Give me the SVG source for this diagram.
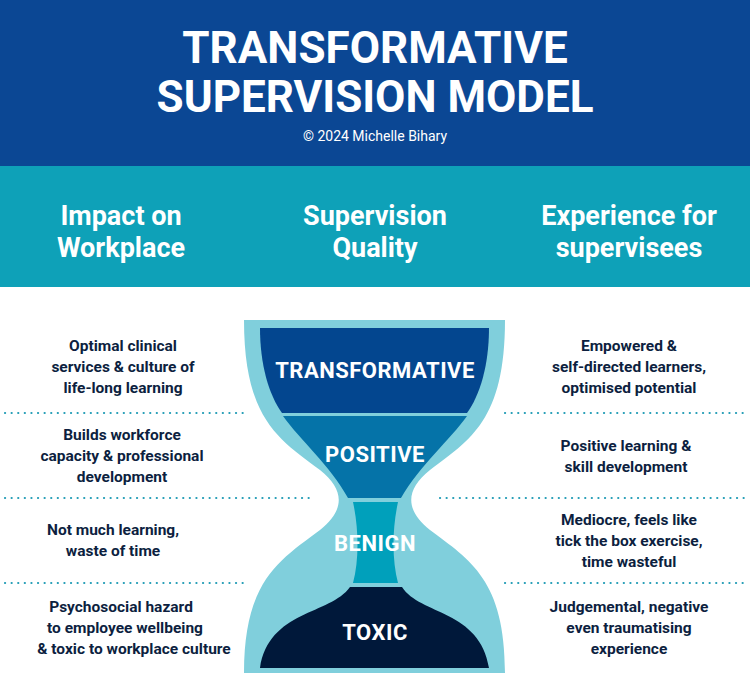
<svg xmlns="http://www.w3.org/2000/svg" width="750" height="691" viewBox="0 0 750 691">
<style>
.t{font-family:Roboto,"Liberation Sans",sans-serif;font-weight:bold}
.h{fill:#fff;font-size:27px;text-anchor:middle}
.s{fill:#0d1f3f;font-size:15.5px;text-anchor:middle}
.l{fill:#fff;font-size:22px;text-anchor:middle;letter-spacing:0.5px}
.d{stroke:#1f9bb5;stroke-width:2.2;stroke-dasharray:0.1 6.5;stroke-linecap:round;fill:none}
</style>
<rect x="0" y="0" width="750" height="166" fill="#0b4794"/>
<rect x="0" y="166" width="750" height="121" fill="#0ea1b8"/>
<g id="title">
<text class="t" x="375" y="63" fill="#fff" font-size="44" text-anchor="middle">TRANSFORMATIVE</text>
<text class="t" x="375" y="112" fill="#fff" font-size="44" text-anchor="middle">SUPERVISION MODEL</text>
<text x="375" y="141" fill="#fff" font-size="14" text-anchor="middle" font-family="Roboto,'Liberation Sans',sans-serif">© 2024 Michelle Bihary</text>
</g>
<g id="headers">
<text class="t h" x="121" y="225">Impact on</text><text class="t h" x="121" y="257">Workplace</text>
<text class="t h" x="375" y="225">Supervision</text><text class="t h" x="375" y="257">Quality</text>
<text class="t h" x="629" y="225">Experience for</text><text class="t h" x="629" y="257">supervisees</text>
</g>
<g id="connectors">
<path class="d" d="M5 413H245M505 413H745M5 498H310M440 498H745M5 583H245M505 583H745"/>
</g>
<g id="hourglass">
<path d="M244 320H505C505 420 470 440 430 470C405 490 405 510 430 530C470 560 505 580 505 673H244C244 580 280 560 320 530C345 510 345 490 320 470C280 440 244 420 244 320Z" fill="#80cfdc"/>
</g>
<g id="transformative"><path d="M260 328H489C489 365 480 395 467 413H282C269 395 260 365 260 328Z" fill="#03468f"/><text class="t l" x="375" y="378">TRANSFORMATIVE</text></g>
<g id="positive"><path d="M283 416H467C450 440 420 465 401 498H348C330 465 300 440 283 416Z" fill="#0573a8"/><text class="t l" x="375" y="462">POSITIVE</text></g>
<g id="benign"><path d="M353 502H398C392 530 392 560 398 583H353C359 560 359 530 353 502Z" fill="#00a0bb"/><text class="t l" x="375" y="551">BENIGN</text></g>
<g id="toxic"><path d="M350 587H402C420 615 480 610 489 668H260C269 610 330 615 350 587Z" fill="#00183a"/><text class="t l" x="375" y="640">TOXIC</text></g>
<g id="left">
<text class="t s" x="123" y="351">Optimal clinical</text><text class="t s" x="123" y="372">services &amp; culture of</text><text class="t s" x="123" y="393">life-long learning</text>
<text class="t s" x="122" y="440">Builds workforce</text><text class="t s" x="122" y="461">capacity &amp; professional</text><text class="t s" x="122" y="482">development</text>
<text class="t s" x="113" y="535">Not much learning,</text><text class="t s" x="113" y="556">waste of time</text>
<text class="t s" x="121" y="612">Psychosocial hazard</text><text class="t s" x="125" y="633">to employee wellbeing</text><text class="t s" x="134" y="654">&amp; toxic to workplace culture</text>
</g>
<g id="right">
<text class="t s" x="629" y="351">Empowered &amp;</text><text class="t s" x="629" y="372">self-directed learners,</text><text class="t s" x="629" y="393">optimised potential</text>
<text class="t s" x="626" y="451">Positive learning &amp;</text><text class="t s" x="626" y="472">skill development</text>
<text class="t s" x="629" y="525">Mediocre, feels like</text><text class="t s" x="629" y="546">tick the box exercise,</text><text class="t s" x="629" y="567">time wasteful</text>
<text class="t s" x="629" y="612">Judgemental, negative</text><text class="t s" x="629" y="633">even traumatising</text><text class="t s" x="629" y="654">experience</text>
</g>
</svg>
